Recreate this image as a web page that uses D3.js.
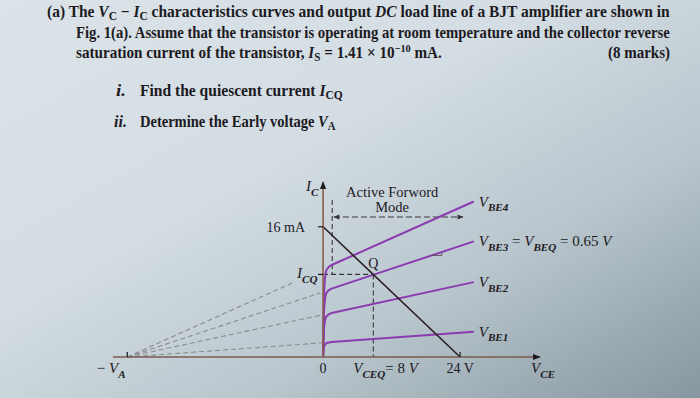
<!DOCTYPE html>
<html>
<head>
<meta charset="utf-8">
<script src="https://cdn.jsdelivr.net/npm/d3@7"></script>
<style>
    html, body { margin: 0; padding: 0; overflow: hidden; }
    svg { display: block; }
</style>
</head>
<body>
<div id="content"></div>
<script>
/*
    Chart values (volts / milliamps)
*/
var curveNames = ["BE1", "BE2", "BE3", "BE4"];
var curveVce = [0, 0.2, 0.6, 1.5, 26.4];
var curveIc1 = [0, 1.3, 1.7, 1.85, 3.1];
var curveIc2 = [0, 3.8, 5.0, 5.4, 9.2];
var curveIc3 = [0, 6.0, 7.9, 8.4, 14.2];
var curveIc4 = [0, 8.2, 10.7, 11.3, 19.1];
var earlyVoltage = 34.3;
var earlyIntercept = [1.75, 5.2, 8.0, 10.8];
var earlyStop = [0, 0, -0.5, -5.2];
var loadVce = [0, 24];
var loadIc = [16, 0];
var qVce = 8.8, qIc = 10.15;
var activeEdge = 1.6;
var xDomain = [-36.8, 38];
var yDomain = [0, 21.5];
/*
    Header text lines
*/
var headerLines = [
    { x: 47, y: 17, w: 623, parts: [["(a) The ", ""], ["V", "i"], ["C", "sub"], [" \u2212 ", ""], ["I", "i"], ["C", "sub"],
        [" characteristics curves and output ", ""], ["DC", "i"], [" load line of a BJT amplifier are shown in", ""]] },
    { x: 76, y: 38, w: 594, parts: [["Fig. 1(a). Assume that the transistor is operating at room temperature and the collector reverse", ""]] },
    { x: 76, y: 58, w: 366, parts: [["saturation current of the transistor, ", ""], ["I", "i"], ["S", "sub"], [" = 1.41 \u00d7 10", ""], ["\u221210", "sup"], [" mA.", ""]] },
    { x: 608, y: 58, w: 62, parts: [["(8 marks)", ""]] },
    { x: 116, y: 96, w: 10, parts: [["i.", "i"]] },
    { x: 140, y: 96, w: 203, parts: [["Find the quiescent current ", ""], ["I", "i"], ["CQ", "sub"]] },
    { x: 114, y: 127, w: 13, parts: [["ii.", "i"]] },
    { x: 140, y: 127, w: 196, parts: [["Determine the Early voltage ", ""], ["V", "i"], ["A", "sub"]] }
];

var realW = 700, realH = 398, svg, x, y, plot;
var purple = "#8a3cb0", axisCol = "#7a5a52", ink = "#1c1a1e";

/*
    Writes a line of text made of plain / italic / subscript / superscript pieces
*/
function richText(g, px, py, parts, opts) {
    var t = g.append("text")
        .attr("x", px)
        .attr("y", py)
        .style("font-family", opts.family || "Liberation Serif")
        .style("font-size", opts.size + "px")
        .style("font-weight", opts.weight || "normal")
        .style("fill", opts.fill || ink)
        .attr("text-anchor", opts.anchor || "start");
    var shift = 0, subDrop = opts.subDrop || 0.3;
    parts.forEach(function (p) {
        var s = p[1], target = 0, size = opts.size;
        if (s == "sub") { target = opts.size * subDrop; size = opts.size * 0.74; }
        if (s == "sup") { target = -opts.size * 0.38; size = opts.size * 0.68; }
        var ts = t.append("tspan")
            .attr("dy", target - shift)
            .style("font-size", size + "px")
            .style("font-style", (s == "i" || (s == "sub" && opts.italicSub)) ? "italic" : "normal")
            .text(p[0]);
        if (s == "sub" && opts.italicSub) ts.style("font-weight", "bold");
        shift = target;
    });
    return t;
}

function init() {
    svg = d3.select("#content")
        .append("svg")
        .attr("width", realW)
        .attr("height", realH);

    var defs = svg.append("defs");
    var grad = defs.append("linearGradient")
        .attr("id", "bg")
        .attr("x1", 0).attr("y1", 0).attr("x2", 1).attr("y2", 1);
    [[0, "#dbe3e8"], [0.4, "#d3dde3"], [0.68, "#b9c6cd"], [1, "#8797a0"]].forEach(function (s) {
        grad.append("stop").attr("offset", s[0]).attr("stop-color", s[1]);
    });
    defs.append("marker")
        .attr("id", "arrowAxis")
        .attr("viewBox", "0 0 10 10")
        .attr("refX", 9).attr("refY", 5)
        .attr("markerWidth", 8).attr("markerHeight", 8)
        .attr("markerUnits", "userSpaceOnUse")
        .attr("orient", "auto-start-reverse")
        .append("path")
        .attr("d", "M0,1 L10,5 L0,9 Z")
        .style("fill", ink);
    defs.append("marker")
        .attr("id", "arrowMode")
        .attr("viewBox", "0 0 10 10")
        .attr("refX", 9).attr("refY", 5)
        .attr("markerWidth", 9).attr("markerHeight", 6)
        .attr("markerUnits", "userSpaceOnUse")
        .attr("orient", "auto-start-reverse")
        .append("path")
        .attr("d", "M0,1 L10,5 L0,9 Z")
        .style("fill", "#3a3438");

    svg.append("rect")
        .attr("width", realW)
        .attr("height", realH)
        .style("fill", "url(#bg)");

    /*
        Header question text, squeezed horizontally to the photographed width
    */
    var head = svg.append("g").attr("id", "header");
    headerLines.forEach(function (l) {
        var t = richText(head, 0, 0, l.parts, { size: 16, weight: "bold", subDrop: 0.18 });
        var bw = t.node().getBBox().width;
        t.attr("transform", "translate(" + l.x + "," + l.y + ") scale(" + (l.w / bw) + ",1)");
    });

    x = d3.scaleLinear().domain(xDomain).range([113, 540]);
    y = d3.scaleLinear().domain(yDomain).range([357, 182]);
    plot = svg.append("g").attr("id", "plot");

    drawGuides();
    drawCurves();
    drawAxes();
    drawLabels();
}

/*
    Dashed extrapolation lines, Q guides and the active-mode boundary
*/
function drawGuides() {
    plot.append("g").selectAll("line")
        .data(earlyIntercept)
        .enter()
        .append("line")
        .attr("x1", x(-earlyVoltage))
        .attr("y1", y(0))
        .attr("x2", function (d, i) { return x(earlyStop[i]); })
        .attr("y2", function (d, i) { return y(d * (1 + earlyStop[i] / earlyVoltage)); })
        .style("stroke", "#8c8c8e")
        .style("stroke-width", 1.1)
        .style("stroke-dasharray", "5,3");

    var dash = "#3c383c";
    plot.append("line")
        .attr("x1", x(0)).attr("y1", y(qIc))
        .attr("x2", x(qVce)).attr("y2", y(qIc))
        .style("stroke", dash).style("stroke-width", 1.1).style("stroke-dasharray", "5,3");
    plot.append("line")
        .attr("x1", x(qVce)).attr("y1", y(qIc))
        .attr("x2", x(qVce)).attr("y2", y(0))
        .style("stroke", dash).style("stroke-width", 1.1).style("stroke-dasharray", "5,3");
    plot.append("line")
        .attr("x1", x(activeEdge)).attr("y1", y(19.3))
        .attr("x2", x(activeEdge)).attr("y2", y(qIc))
        .style("stroke", dash).style("stroke-width", 1.1).style("stroke-dasharray", "5,3");
    plot.append("line")
        .attr("x1", x(activeEdge + 0.3)).attr("y1", y(17.2))
        .attr("x2", x(24.5)).attr("y2", y(17.2))
        .attr("marker-start", "url(#arrowMode)")
        .attr("marker-end", "url(#arrowMode)")
        .style("stroke", dash).style("stroke-width", 1.1).style("stroke-dasharray", "6,3");
}

/*
    Output characteristics (rounded knee, then straight) and the DC load line
*/
function drawCurves() {
    var ics = [curveIc1, curveIc2, curveIc3, curveIc4];
    var n = curveVce.length - 1;
    var knee = d3.line()
        .x(function (d) { return x(d[0]); })
        .y(function (d) { return y(d[1]); })
        .curve(d3.curveMonotoneX);

    plot.append("g").selectAll("path")
        .data(ics)
        .enter()
        .append("path")
        .attr("d", function (d) {
            var pts = d.map(function (v, i) { return [curveVce[i], v]; });
            return knee(pts.slice(0, n)) + "L" + x(pts[n][0]) + "," + y(pts[n][1]);
        })
        .style("fill", "none")
        .style("stroke", purple)
        .style("stroke-width", 2);

    /* small slope triangle under the V_BE3 line */
    var slope = (curveIc3[n] - curveIc3[n - 1]) / (curveVce[n] - curveVce[n - 1]);
    var va = 19, vb = 20.8;
    var ia = curveIc3[n - 1] + slope * (va - curveVce[n - 1]);
    var ib = curveIc3[n - 1] + slope * (vb - curveVce[n - 1]);
    plot.append("path")
        .attr("d", "M" + x(va) + "," + y(ia) + "H" + x(vb) + "V" + y(ib))
        .style("fill", "none")
        .style("stroke", "#5a5258")
        .style("stroke-width", 0.9);

    plot.append("line")
        .attr("x1", x(loadVce[0])).attr("y1", y(loadIc[0]))
        .attr("x2", x(loadVce[1])).attr("y2", y(loadIc[1]))
        .style("stroke", "#2a1f22")
        .style("stroke-width", 1.6);
}

function drawAxes() {
    plot.append("line")
        .attr("x1", x(xDomain[0])).attr("y1", y(0))
        .attr("x2", x(xDomain[1])).attr("y2", y(0))
        .attr("marker-end", "url(#arrowAxis)")
        .style("stroke", axisCol).style("stroke-width", 1.6);
    plot.append("line")
        .attr("x1", x(0)).attr("y1", y(0))
        .attr("x2", x(0)).attr("y2", y(yDomain[1]))
        .attr("marker-end", "url(#arrowAxis)")
        .style("stroke", "#8a5e4c").style("stroke-width", 1.6);

    /* tick marks */
    [16, qIc].forEach(function (v) {
        plot.append("line")
            .attr("x1", x(0) - 5).attr("x2", x(0))
            .attr("y1", y(v)).attr("y2", y(v))
            .style("stroke", ink).style("stroke-width", 1.2);
    });
    [-earlyVoltage, 24].forEach(function (v) {
        plot.append("line")
            .attr("x1", x(v)).attr("x2", x(v))
            .attr("y1", y(0) - 5).attr("y2", y(0))
            .style("stroke", ink).style("stroke-width", 1.2);
    });
}

/*
    Labels round the plot
*/
function drawLabels() {
    var g = plot.append("g").attr("id", "labels");
    var f = { size: 15, italicSub: true };
    var n = curveVce.length - 1;
    var ends = [curveIc1[n], curveIc2[n], curveIc3[n], curveIc4[n]];

    richText(g, x(0) - 17, y(yDomain[1]) + 9, [["I", "i"], ["C", "sub"]], f);
    richText(g, x(0) - 18, y(16) + 5, [["16 mA", ""]], { size: 14, anchor: "end" });
    richText(g, x(0) - 26, y(qIc) + 4, [["I", "i"], ["CQ", "sub"]], f);
    richText(g, x(qVce), y(qIc) - 6, [["Q", ""]], { size: 14, anchor: "middle" });
    richText(g, x(12.1), y(17.2) - 20, [["Active Forword", ""]], { size: 14.5, anchor: "middle" });
    richText(g, x(12.1), y(17.2) - 5, [["Mode", ""]], { size: 14.5, anchor: "middle" });

    curveNames.forEach(function (c, i) {
        var parts = [["V", "i"], [c, "sub"]];
        if (c == "BE3") {
            parts = parts.concat([[" = ", ""], ["V", "i"], ["BEQ", "sub"], [" = 0.65 ", ""], ["V", "i"]]);
        }
        richText(g, x(curveVce[n]) + 5, y(ends[i]) + 5, parts, f);
    });

    var by = y(0) + 16;
    richText(g, x(-earlyVoltage) - 16, by, [["\u2212 ", ""], ["V", "i"], ["A", "sub"]], { size: 15, italicSub: true, anchor: "middle" });
    richText(g, x(0), by, [["0", ""]], { size: 14, anchor: "middle" });
    richText(g, x(qVce) - 20, by, [["V", "i"], ["CEQ", "sub"], ["= 8 ", ""], ["V", "i"]], f);
    richText(g, x(24), by, [["24 V", ""]], { size: 14, anchor: "middle" });
    richText(g, x(xDomain[1]) - 9, by, [["V", "i"], ["CE", "sub"]], f);
}

init();
</script>
</body>
</html>
